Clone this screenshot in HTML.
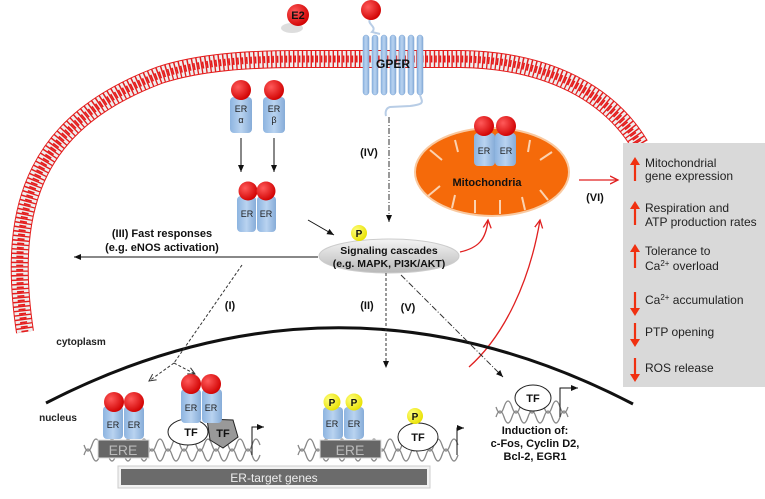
<!DOCTYPE html>
<html><head><meta charset="utf-8"><style>
html,body{margin:0;padding:0;background:#fff;}
svg{display:block;font-family:"Liberation Sans",sans-serif;}
.b{font-weight:bold;}
</style></head><body>
<svg width="765" height="499" viewBox="0 0 765 499" xmlns="http://www.w3.org/2000/svg">
<defs>
<marker id="ak" markerWidth="8" markerHeight="8" refX="7" refY="4" orient="auto" markerUnits="userSpaceOnUse"><path d="M0,1 L7,4 L0,7 Z" fill="#111"/></marker>
<marker id="ao" markerWidth="9" markerHeight="9" refX="7" refY="4" orient="auto" markerUnits="userSpaceOnUse"><path d="M0,0.5 L7,4 L0,7.5" fill="none" stroke="#333" stroke-width="1"/></marker>
<marker id="ar" markerWidth="10" markerHeight="10" refX="8" refY="5" orient="auto" markerUnits="userSpaceOnUse"><path d="M0,1 L8,5 L0,9" fill="none" stroke="#e02020" stroke-width="1.3"/></marker>
<linearGradient id="cyl" x1="0" x2="1"><stop offset="0" stop-color="#8db4e0"/><stop offset="0.5" stop-color="#b9d3f0"/><stop offset="1" stop-color="#86acd8"/></linearGradient>
<radialGradient id="red" cx="0.35" cy="0.35" r="0.7"><stop offset="0" stop-color="#ff5a5a"/><stop offset="1" stop-color="#d00000"/></radialGradient>
<radialGradient id="yel" cx="0.35" cy="0.35" r="0.7"><stop offset="0" stop-color="#ffff80"/><stop offset="1" stop-color="#e8e000"/></radialGradient>
<linearGradient id="sig" x1="0" y1="0" x2="0" y2="1"><stop offset="0" stop-color="#f4f4f4"/><stop offset="1" stop-color="#b8b8b8"/></linearGradient>
</defs>

<!-- membrane -->
<g fill="none">
<path d="M 25 332 C 5 200, 40 120, 160 75 C 200 62, 250 59, 300 59 L 460 59 C 550 60, 610 95, 640 145" stroke="#e41c1c" stroke-width="18"/>
<path d="M 25 332 C 5 200, 40 120, 160 75 C 200 62, 250 59, 300 59 L 460 59 C 550 60, 610 95, 640 145" stroke="#eeeeee" stroke-width="16" stroke-dasharray="3 1.4"/>
<path d="M 25 332 C 5 200, 40 120, 160 75 C 200 62, 250 59, 300 59 L 460 59 C 550 60, 610 95, 640 145" stroke="#e41c1c" stroke-width="7" stroke-dasharray="1.6 2.8"/>
</g>

<!-- gray box -->
<rect x="623" y="143" width="142" height="244" fill="#d9d9d9"/>
<g font-size="12" fill="#222">
<text x="645" y="167">Mitochondrial</text><text x="645" y="180">gene expression</text>
<text x="645" y="212">Respiration and</text><text x="645" y="226">ATP production rates</text>
<text x="645" y="255">Tolerance to</text><text x="645" y="270">Ca<tspan font-size="8" dy="-4">2+</tspan><tspan dy="4"> overload</tspan></text>
<text x="645" y="304">Ca<tspan font-size="8" dy="-4">2+</tspan><tspan dy="4"> accumulation</tspan></text>
<text x="645" y="336">PTP opening</text>
<text x="645" y="372">ROS release</text>
</g>
<g stroke="#f03010" stroke-width="2.2" fill="#f03010">
<line x1="635" y1="181" x2="635" y2="163"/><path d="M630,165 L635,157 L640,165Z" stroke="none"/>
<line x1="635" y1="225" x2="635" y2="207"/><path d="M630,209 L635,201 L640,209Z" stroke="none"/>
<line x1="635" y1="268" x2="635" y2="250"/><path d="M630,252 L635,244 L640,252Z" stroke="none"/>
<line x1="635" y1="292" x2="635" y2="310"/><path d="M630,308 L635,316 L640,308Z" stroke="none"/>
<line x1="635" y1="323" x2="635" y2="341"/><path d="M630,339 L635,347 L640,339Z" stroke="none"/>
<line x1="635" y1="358" x2="635" y2="376"/><path d="M630,374 L635,382 L640,374Z" stroke="none"/>
</g>

<!-- E2 -->
<ellipse cx="292" cy="28" rx="11" ry="5" fill="#bbb" opacity="0.5"/>
<circle cx="298" cy="15" r="11" fill="url(#red)"/>
<text x="298" y="19" font-size="11" text-anchor="middle" class="b" fill="#111">E2</text>

<!-- GPER -->
<path d="M371,18 C365,24 378,26 372,32 L380,34" fill="none" stroke="#b8cde6" stroke-width="2"/>
<circle cx="371" cy="10" r="10" fill="url(#red)"/>
<g fill="url(#cyl)" stroke="#7ea6d6" stroke-width="0.5">
<rect x="363" y="35" width="6" height="60" rx="3"/><rect x="372" y="35" width="6" height="60" rx="3"/>
<rect x="381" y="35" width="6" height="60" rx="3"/><rect x="390" y="35" width="6" height="60" rx="3"/>
<rect x="399" y="35" width="6" height="60" rx="3"/><rect x="408" y="35" width="6" height="60" rx="3"/>
<rect x="417" y="35" width="6" height="60" rx="3"/>
</g>
<text x="393" y="68" font-size="12" text-anchor="middle" class="b" fill="#111">GPER</text>
<path d="M420,95 C422,102 426,104 410,106 L390,107 C386,108 385,112 386,116" fill="none" stroke="#b8cde6" stroke-width="2"/>

<!-- ER alpha / beta -->
<rect x="230" y="97" width="22" height="36" rx="4" fill="url(#cyl)"/>
<rect x="263" y="97" width="22" height="36" rx="4" fill="url(#cyl)"/>
<circle cx="241" cy="90" r="10" fill="url(#red)"/><circle cx="274" cy="90" r="10" fill="url(#red)"/>
<g font-size="9" fill="#222" text-anchor="middle"><text x="241" y="112">ER</text><text x="241" y="123">α</text><text x="274" y="112">ER</text><text x="274" y="123">β</text></g>
<line x1="241" y1="138" x2="241" y2="172" stroke="#111" marker-end="url(#ak)"/>
<line x1="274" y1="138" x2="274" y2="172" stroke="#111" marker-end="url(#ak)"/>

<!-- ER dimer -->
<rect x="237" y="196" width="19" height="36" rx="4" fill="url(#cyl)"/>
<rect x="257" y="196" width="19" height="36" rx="4" fill="url(#cyl)"/>
<circle cx="248" cy="191" r="9.5" fill="url(#red)"/><circle cx="266" cy="191" r="9.5" fill="url(#red)"/>
<g font-size="9" fill="#222" text-anchor="middle"><text x="247" y="217">ER</text><text x="266" y="217">ER</text></g>
<line x1="308" y1="220" x2="334" y2="235" stroke="#111" marker-end="url(#ak)"/>

<!-- IV -->
<text x="369" y="156" font-size="11" class="b" text-anchor="middle" fill="#111">(IV)</text>
<line x1="389" y1="117" x2="389" y2="222" stroke="#333" stroke-dasharray="6 2 1 2" marker-end="url(#ak)"/>

<!-- Mitochondria -->
<ellipse cx="492" cy="172" rx="77" ry="44" fill="#f56a0a" stroke="#f9c9a0" stroke-width="2"/>
<g stroke="#fbd2b0" stroke-width="2" fill="none">
<path d="M430,150 L442,160"/><path d="M455,140 L458,152"/><path d="M530,140 L528,152"/><path d="M552,152 L540,160"/>
<path d="M428,196 L440,186"/><path d="M452,208 L455,195"/><path d="M475,213 L475,200"/><path d="M500,214 L500,200"/><path d="M525,210 L522,197"/><path d="M548,200 L540,190"/>
</g>
<rect x="474" y="133" width="21" height="33" rx="4" fill="url(#cyl)"/>
<rect x="495" y="133" width="21" height="33" rx="4" fill="url(#cyl)"/>
<circle cx="484" cy="126" r="10" fill="url(#red)"/><circle cx="506" cy="126" r="10" fill="url(#red)"/>
<g font-size="9" fill="#222" text-anchor="middle"><text x="484" y="154">ER</text><text x="506" y="154">ER</text></g>
<text x="487" y="186" font-size="11" class="b" text-anchor="middle" fill="#111">Mitochondria</text>
<line x1="579" y1="180" x2="618" y2="180" stroke="#e02020" stroke-width="1.3" marker-end="url(#ar)"/>
<text x="595" y="201" font-size="11" class="b" text-anchor="middle" fill="#111">(VI)</text>

<!-- III -->
<text x="162" y="237" font-size="11" class="b" text-anchor="middle" fill="#111">(III) Fast responses</text>
<text x="162" y="251" font-size="11" class="b" text-anchor="middle" fill="#111">(e.g. eNOS activation)</text>
<line x1="318" y1="257" x2="74" y2="257" stroke="#111" marker-end="url(#ak)"/>

<!-- signaling -->
<ellipse cx="389" cy="256" rx="70" ry="17" fill="url(#sig)" stroke="#ccc"/>
<circle cx="359" cy="233" r="8" fill="url(#yel)"/>
<text x="359" y="237" font-size="10" class="b" text-anchor="middle" fill="#111">P</text>
<text x="389" y="254" font-size="10.5" class="b" text-anchor="middle" fill="#111">Signaling cascades</text>
<text x="389" y="267" font-size="10.5" class="b" text-anchor="middle" fill="#111">(e.g. MAPK,  PI3K/AKT)</text>

<!-- red curves -->
<path d="M460,252 C478,248 486,240 488,220" fill="none" stroke="#e02020" stroke-width="1.3" marker-end="url(#ar)"/>
<path d="M469,367 C505,335 530,280 540,220" fill="none" stroke="#e02020" stroke-width="1.3" marker-end="url(#ar)"/>

<!-- nucleus arc -->
<path d="M46 403 Q 340 252 633 404" fill="none" stroke="#111" stroke-width="3"/>
<text x="81" y="345" font-size="10" class="b" text-anchor="middle" fill="#222">cytoplasm</text>
<text x="58" y="421" font-size="10" class="b" text-anchor="middle" fill="#222">nucleus</text>

<!-- I, II, V -->
<text x="230" y="309" font-size="11" class="b" text-anchor="middle" fill="#111">(I)</text>
<text x="367" y="309" font-size="11" class="b" text-anchor="middle" fill="#111">(II)</text>
<text x="408" y="311" font-size="11" class="b" text-anchor="middle" fill="#111">(V)</text>
<g stroke="#333" fill="none" stroke-dasharray="3 2">
<path d="M242,265 L174,363"/>
<path d="M174,363 L149,381" marker-end="url(#ao)"/>
<path d="M174,363 L195,374" marker-end="url(#ao)"/>
<path d="M386,273 L386,368" marker-end="url(#ak)"/>
</g>
<path d="M401,275 L503,377" stroke="#333" fill="none" stroke-dasharray="6 2 1 2" marker-end="url(#ak)"/>

<!-- DNA strands -->
<g fill="none" stroke="#888" stroke-width="1.3">
<path d="M84,455 q4,-12 8,0 q4,12 8,0 q4,-12 8,0 q4,12 8,0 q4,-12 8,0 q4,12 8,0 q4,-12 8,0 q4,12 8,0 q4,-12 8,0 q4,12 8,0 q4,-12 8,0 q4,12 8,0 q4,-12 8,0 q4,12 8,0 q4,-12 8,0 q4,12 8,0 q4,-12 8,0 q4,12 8,0 q4,-12 8,0 q4,12 8,0 q4,-12 8,0 q4,12 8,0"/>
<path d="M84,445 q4,12 8,0 q4,-12 8,0 q4,12 8,0 q4,-12 8,0 q4,12 8,0 q4,-12 8,0 q4,12 8,0 q4,-12 8,0 q4,12 8,0 q4,-12 8,0 q4,12 8,0 q4,-12 8,0 q4,12 8,0 q4,-12 8,0 q4,12 8,0 q4,-12 8,0 q4,12 8,0 q4,-12 8,0 q4,12 8,0 q4,-12 8,0 q4,12 8,0 q4,-12 8,0"/>
<path d="M298,455 q4,-12 8,0 q4,12 8,0 q4,-12 8,0 q4,12 8,0 q4,-12 8,0 q4,12 8,0 q4,-12 8,0 q4,12 8,0 q4,-12 8,0 q4,12 8,0 q4,-12 8,0 q4,12 8,0 q4,-12 8,0 q4,12 8,0 q4,-12 8,0 q4,12 8,0 q4,-12 8,0 q4,12 8,0 q4,-12 8,0 q4,12 8,0"/>
<path d="M298,445 q4,12 8,0 q4,-12 8,0 q4,12 8,0 q4,-12 8,0 q4,12 8,0 q4,-12 8,0 q4,12 8,0 q4,-12 8,0 q4,12 8,0 q4,-12 8,0 q4,12 8,0 q4,-12 8,0 q4,12 8,0 q4,-12 8,0 q4,12 8,0 q4,-12 8,0 q4,12 8,0 q4,-12 8,0 q4,12 8,0 q4,-12 8,0"/>
<path d="M496,417 q4,-12 8,0 q4,12 8,0 q4,-12 8,0 q4,12 8,0 q4,-12 8,0 q4,12 8,0 q4,-12 8,0 q4,12 8,0 q4,-12 8,0"/>
<path d="M496,407 q4,12 8,0 q4,-12 8,0 q4,12 8,0 q4,-12 8,0 q4,12 8,0 q4,-12 8,0 q4,12 8,0 q4,-12 8,0 q4,12 8,0"/>
</g>

<!-- left ERE + dimer -->
<rect x="98" y="440" width="51" height="18" fill="#666" stroke="#ddd"/>
<text x="123" y="455" font-size="14" text-anchor="middle" fill="#bbb">ERE</text>
<rect x="103" y="406" width="20" height="33" rx="4" fill="url(#cyl)"/>
<rect x="124" y="406" width="20" height="33" rx="4" fill="url(#cyl)"/>
<circle cx="114" cy="402" r="10" fill="url(#red)"/><circle cx="134" cy="402" r="10" fill="url(#red)"/>
<g font-size="9" fill="#222" text-anchor="middle"><text x="113" y="428">ER</text><text x="134" y="428">ER</text></g>

<!-- second dimer with TFs -->
<ellipse cx="188" cy="432" rx="20" ry="13" fill="#fff" stroke="#222"/>
<path d="M207,419 L233,420 L238,437 L223,448 L210,440 Z" fill="#999" stroke="#222"/>
<rect x="181" y="389" width="20" height="34" rx="4" fill="url(#cyl)"/>
<rect x="202" y="389" width="20" height="34" rx="4" fill="url(#cyl)"/>
<circle cx="191" cy="384" r="10" fill="url(#red)"/><circle cx="211" cy="384" r="10" fill="url(#red)"/>
<g font-size="9" fill="#222" text-anchor="middle"><text x="191" y="411">ER</text><text x="211" y="411">ER</text></g>
<text x="191" y="436" font-size="11" class="b" text-anchor="middle" fill="#111">TF</text>
<text x="223" y="437" font-size="11" class="b" text-anchor="middle" fill="#111">TF</text>
<path d="M252,455 L252,427 L264,427" fill="none" stroke="#111" marker-end="url(#ak)"/>

<!-- middle ERE -->
<rect x="320" y="440" width="61" height="18" fill="#666" stroke="#ddd"/>
<text x="350" y="455" font-size="14" text-anchor="middle" fill="#bbb">ERE</text>
<rect x="323" y="407" width="20" height="32" rx="4" fill="url(#cyl)"/>
<rect x="344" y="407" width="20" height="32" rx="4" fill="url(#cyl)"/>
<circle cx="332" cy="402" r="8.5" fill="url(#yel)"/><circle cx="354" cy="402" r="8.5" fill="url(#yel)"/>
<g font-size="10" class="b" text-anchor="middle" fill="#111"><text x="332" y="406">P</text><text x="354" y="406">P</text></g>
<g font-size="9" fill="#222" text-anchor="middle"><text x="332" y="427">ER</text><text x="354" y="427">ER</text></g>
<ellipse cx="418" cy="437" rx="20" ry="14" fill="#fff" stroke="#222"/>
<text x="418" y="441" font-size="11" class="b" text-anchor="middle" fill="#111">TF</text>
<circle cx="415" cy="416" r="8" fill="url(#yel)"/>
<text x="415" y="420" font-size="10" class="b" text-anchor="middle" fill="#111">P</text>
<path d="M457,455 L457,428 L464,428" fill="none" stroke="#111" marker-end="url(#ak)"/>

<!-- right TF -->
<ellipse cx="533" cy="398" rx="18" ry="13" fill="#fff" stroke="#222"/>
<text x="533" y="402" font-size="11" class="b" text-anchor="middle" fill="#111">TF</text>
<path d="M560,417 L560,388 L578,388" fill="none" stroke="#111" marker-end="url(#ak)"/>
<g font-size="11" class="b" text-anchor="middle" fill="#111">
<text x="535" y="434">Induction of:</text>
<text x="535" y="447">c-Fos, Cyclin D2,</text>
<text x="535" y="460">Bcl-2, EGR1</text>
</g>

<!-- ER-target genes bar -->
<rect x="118" y="466" width="312" height="22" fill="#f2f2f2" stroke="#ccc"/>
<rect x="121" y="469" width="306" height="16" fill="#6b6b6b"/>
<text x="274" y="482" font-size="12" text-anchor="middle" fill="#eee">ER-target genes</text>
</svg>
</body></html>
